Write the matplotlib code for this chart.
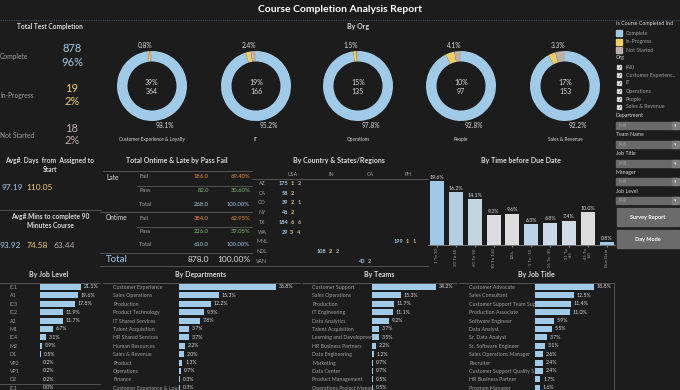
import matplotlib
matplotlib.use("Agg")
import matplotlib.pyplot as plt
from matplotlib.patches import Rectangle

plt.rcParams["font.family"] = ["Lato", "DejaVu Sans"]

# ---- data ----
status = ["Complete", "In-Progress", "Not Started"]
status_count = [878, 19, 18]
status_pct = [96, 2, 2]

avg_days = [97.19, 110.05]
avg_mins = [93.92, 74.58, 63.44]

orgs = ["Customer Experience & Loyalty", "IT", "Operations", "People", "Sales & Revenue"]
org_share = [39, 19, 15, 10, 17]
org_count = [364, 166, 135, 97, 153]
org_complete = [98.1, 95.2, 97.8, 92.8, 92.2]
org_inprog = [0.8, 2.4, 1.5, 4.1, 3.3]
org_notstarted = [1.1, 2.4, 0.7, 3.1, 4.5]

pf_groups = ["Late", "Ontime"]
pf_rows = ["Fail", "Pass", "Total"]
pf_late = [186.0, 82.0, 268.0]
pf_late_pct = [69.40, 30.60, 100.00]
pf_ontime = [384.0, 226.0, 610.0]
pf_ontime_pct = [62.95, 37.05, 100.00]
pf_total = 878.0
pf_total_pct = 100.00

countries = ["USA", "IN", "CA", "PH"]
states = ["AZ", "CA", "CO", "NY", "TX", "WA", "MNL", "NDL", "VAN"]
state_country = ["USA", "USA", "USA", "USA", "USA", "USA", "PH", "IN", "CA"]
state_complete = [175, 58, 39, 46, 184, 29, 199, 108, 40]
state_inprog = [1, 2, 2, 2, 6, 3, 1, 2, None]
state_notstarted = [2, None, 1, None, 6, 4, 1, 2, 2]

due_buckets = ["1 To 30", "30 To 60", "60 To 90", "90 To 120", "120+",
               "-1 To -15", "-16 To -30", "-31 To\n-45", "-45 To\n-60", "Due Date"]
due_pct = [19.6, 16.2, 14.1, 9.2, 9.6, 6.3, 6.8, 7.4, 10.0, 0.8]
due_colors = ["#9fc9e8", "#b3cfe2", "#c3d5e1", "#dadcdf", "#dcdcdc",
              "#bcd4ea", "#c9d9e8", "#d1dce8", "#dcdcdc", "#9fc9e8"]

job_levels = ["IC1", "A1", "IC3", "IC2", "A2", "M1", "IC4", "M2", "D1", "VP2", "VP1", "D2", "IC1"]
job_level_pct = [21.1, 19.6, 17.8, 11.9, 11.7, 6.7, 3.1, 0.9, 0.5, 0.2, 0.2, 0.2, 0.0]

departments = ["Customer Experience", "Sales Operations", "Production", "Product Technology",
               "IT Shared Services", "Talent Acquisition", "HR Shared Services", "Human Resources",
               "Sales & Revenue", "Product", "Operations", "Finance", "Customer Experience & Loya.."]
department_pct = [36.8, 15.3, 12.2, 9.5, 7.8, 3.7, 3.7, 2.2, 2.0, 1.3, 0.7, 0.3, 0.3]

teams = ["Customer Support", "Sales Operations", "Production", "IT Engineering", "Data Analytics",
         "Talent Acquisition", "Learning and Development", "HR Business Partners", "Data Engineering",
         "Marketing", "Data Center", "Product Management", "Operations Project Manag.."]
team_pct = [34.2, 15.3, 11.7, 11.1, 9.2, 3.7, 3.5, 2.2, 1.2, 0.7, 0.7, 0.5, 0.5]

job_titles = ["Customer Advocate", "Sales Consultant", "Customer Support Team Sup..",
              "Production Associate", "Software Engineer", "Data Analyst", "Sr. Data Analyst",
              "Sr. Software Engineer", "Sales Operations Manager", "Recruiter",
              "Customer Support Quality S..", "HR Business Partner", "Program Manager"]
job_title_pct = [18.8, 12.5, 11.4, 11.0, 5.9, 5.5, 3.7, 3.1, 2.6, 2.4, 2.4, 1.7, 1.6]

filters = ["Department", "Team Name", "Job Title", "Manager", "Job Level"]
org_filter = ["(All)", "Customer Experienc..", "IT", "Operations", "People", "Sales & Revenue"]

# ---- style ----
BG = "#1c1c1c"
FG = "#d9d9d9"
DIM = "#a0a0a0"
BLUE = "#a0cbe8"
YEL = "#f1ce63"
GRAY = "#bab0ac"
ORANGE = "#f28e2b"
GREEN = "#7cc36b"
LINE = "#5c5c5c"
status_colors = [BLUE, YEL, GRAY]

W, H = 680, 390
fig = plt.figure(figsize=(6.8, 3.9), dpi=100, facecolor=BG)
bg = fig.add_axes([0, 0, 1, 1])
bg.set_xlim(0, W)
bg.set_ylim(H, 0)
bg.axis("off")


def px_axes(x0, y0, x1, y1):
    return fig.add_axes([x0 / W, 1 - y1 / H, (x1 - x0) / W, (y1 - y0) / H])


def txt(x, y, s, size=4.2, color=FG, ha="left", weight="normal"):
    bg.text(x, y, s, fontsize=size, color=color, ha=ha, va="center", fontweight=weight)


def hline(y, x0, x1, color=LINE, lw=0.6):
    bg.plot([x0, x1], [y, y], color=color, lw=lw)


txt(340, 10, "Course Completion Analysis Report", 7.5, "white", "center", "bold")
bg.plot([0, W], [20, 20], color="#3d4f66", lw=0.8, ls=(0, (1, 1)))

# ---- left KPI panel ----
txt(50, 27, "Total Test Completion", 4.8, FG, "center", "bold")
for i, (name, n, p) in enumerate(zip(status, status_count, status_pct)):
    y = 56 + i * 39.5
    txt(0, y, name, 4.8, DIM)
    txt(72, y - 7, str(n), 8, status_colors[i], "center")
    txt(72, y + 6, f"{p}%", 8, status_colors[i], "center")

txt(50, 161, "Avg#. Days  from  Assigned to", 4.8, FG, "center", "bold")
txt(50, 170, "Start", 4.8, FG, "center", "bold")
x = 1
for v, c in zip(avg_days, status_colors):
    txt(x, 187, f"{v:.2f}", 6, c)
    x += 25
hline(210, 0, 101)
txt(50, 217, "Avg#.Mins to complete 90", 4.8, FG, "center", "bold")
txt(50, 226, "Minutes Course", 4.8, FG, "center", "bold")
x = 0
for v, c in zip(avg_mins, status_colors):
    txt(x, 246, f"{v:.2f}", 6, c)
    x += 27

# ---- donuts by org ----
txt(358, 27, "By Org", 5, FG, "center", "bold")
centers = [152, 256, 358, 461, 565]
R = 35
for i, cx in enumerate(centers):
    ax = px_axes(cx - 45, 41, cx + 45, 131)
    ax.pie([org_complete[i], org_inprog[i], org_notstarted[i]], colors=status_colors,
           startangle=90, counterclock=False, radius=1,
           wedgeprops=dict(width=0.3, linewidth=0))
    ax.set_xlim(-45 / R, 45 / R)
    ax.set_ylim(-45 / R, 45 / R)
    ax.text(0, 0.09, f"{org_share[i]}%", fontsize=5, color=FG, ha="center", va="center")
    ax.text(0, -0.17, str(org_count[i]), fontsize=5, color=FG, ha="center", va="center")
    ax.text(-0.2, 1.17, f"{org_inprog[i]}%", fontsize=4.8, color=FG, ha="center", va="center")
    ax.text(0.37, -1.14, f"{org_complete[i]}%", fontsize=4.8, color=FG, ha="center", va="center")
    ax.text(0, -1.54, orgs[i], fontsize=3.4, color=FG, ha="center", va="center")

# ---- pass / fail table ----
txt(177, 161, "Total Ontime & Late by Pass Fail", 5, FG, "center", "bold")
hline(171, 103, 252)
for g, (grp, vals, pcts) in enumerate(zip(pf_groups, [pf_late, pf_ontime], [pf_late_pct, pf_ontime_pct])):
    y0 = 177 + g * 41
    txt(106, y0, grp, 4.8, FG)
    for r, (row, v, p) in enumerate(zip(pf_rows, vals, pcts)):
        y = y0 + r * 13.5
        c = [ORANGE, GREEN, BLUE][r]
        txt(139, y, row, 4.2, DIM)
        txt(209, y, f"{v:.1f}", 4.2, c, "right")
        txt(250, y, f"{p:.2f}%", 4.2, c, "right")
    hline(y0 + 9, 137, 252)
    hline(y0 + 35, 100, 252)
txt(106, 259, "Total", 7, BLUE)
txt(209, 259, f"{pf_total:.1f}", 6, FG, "right")
txt(250, 259, f"{pf_total_pct:.2f}%", 6, FG, "right")
hline(266, 100, 428)

# ---- country / state table ----
txt(339, 161, "By Country & States/Regions", 5, FG, "center", "bold")
country_x = [293, 331, 370, 408]
for c, cx in zip(countries, country_x):
    txt(cx, 174, c, 3.8, DIM, "center")
hline(179, 252, 428)
for i, st in enumerate(states):
    y = 183.5 + i * 9.7
    txt(262, y, st, 3.8, DIM, "center")
    cx = country_x[countries.index(state_country[i])]
    txt(cx - 5, y, str(state_complete[i]), 4, BLUE, "right", "bold")
    xs = cx - 1
    for v, col in [(state_inprog[i], YEL), (state_notstarted[i], GRAY)]:
        if v is not None:
            txt(xs, y, str(v), 4, col, "center", "bold")
            xs += 7

# ---- time before due date ----
txt(521, 161, "By Time before Due Date", 5, FG, "center", "bold")
ax = px_axes(428, 168, 615, 245)
ax.set_facecolor("none")
bars = ax.bar(range(len(due_pct)), due_pct, width=0.74, color=due_colors)
ax.bar_label(bars, labels=[f"{v:.1f}%" for v in due_pct], fontsize=3.8, color=FG, padding=1)
ax.set_xlim(-0.48, 9.44)
ax.set_ylim(0, 19.6 * 77 / 64)
ax.set_xticks(range(len(due_buckets)), due_buckets, rotation=90, fontsize=3.2, color=DIM,
              linespacing=1.0)
ax.tick_params(axis="x", length=1.5, color="#888888", pad=1)
ax.set_yticks([])
for s in ["top", "right", "left"]:
    ax.spines[s].set_visible(False)
ax.spines["bottom"].set_color("#888888")
ax.spines["bottom"].set_linewidth(0.6)

# ---- bottom bar charts ----
ROW = 8.4


def hbar_panel(title, title_x, x_lab, x0, x1, labels, vals, px_per_pct, colors):
    txt(title_x, 274, title, 5, FG, "center", "bold")
    ax = px_axes(x0, 283, x1, 390)
    ax.set_facecolor("none")
    b = ax.barh(range(len(vals)), vals, height=0.7, color=colors)
    ax.bar_label(b, labels=[f"{v:.1f}%" for v in vals], fontsize=3.8, color=FG, padding=2)
    ax.set_xlim(0, (x1 - x0) / px_per_pct)
    ymin = -(287 - 283) / ROW
    ax.set_ylim(ymin + (390 - 283) / ROW, ymin)
    ax.set_yticks(range(len(labels)), labels, fontsize=3.8, color=DIM)
    for t in ax.get_yticklabels():
        t.set_horizontalalignment("left")
    ax.tick_params(axis="y", length=0, pad=(x0 - x_lab) * 0.72)
    ax.set_xticks([])
    for s in ax.spines.values():
        s.set_visible(False)


hbar_panel("By Job Level", 49, 10, 40, 100, job_levels, job_level_pct, 1.94,
           [BLUE] * 12 + [YEL])
hline(283, 0, 100)
hline(384, 0, 100)
hbar_panel("By Departments", 201, 113, 179, 300, departments, department_pct, 2.63, BLUE)
hline(283, 103, 300)
hbar_panel("By Teams", 379, 312, 372, 457, teams, team_pct, 1.87, BLUE)
hline(283, 302, 457)
hbar_panel("By Job Title", 536, 469, 535, 614, job_titles, job_title_pct, 3.14, BLUE)
hline(283, 459, 614)
bg.plot([614, 614], [283, 390], color=LINE, lw=0.6)

# ---- right filter panel ----
txt(616, 24, "Is Course Completed Ind", 3.8, FG)
for i, (name, c) in enumerate(zip(status, status_colors)):
    y = 33 + i * 8.5
    bg.add_patch(Rectangle((616, y - 3), 6, 6, color=c))
    txt(626, y, name, 3.8, DIM)
txt(616, 57, "Org", 3.8, FG)
for i, name in enumerate(org_filter):
    y = 67 + i * 8
    bg.add_patch(Rectangle((617, y - 2.5), 5, 5, facecolor="#e6e6e6", edgecolor="#888888", lw=0.3))
    bg.text(619.5, y, "\u2713", fontsize=3.5, color="#333333", ha="center", va="center",
            family="DejaVu Sans")
    txt(626, y, name, 3.8, DIM)
for i, name in enumerate(filters):
    y = 116 + i * 18.8
    txt(616, y, name, 3.8, FG)
    bg.add_patch(Rectangle((616, y + 6), 63, 7, color="#6a6a6a"))
    bg.add_patch(Rectangle((672, y + 6), 7, 7, color="#7e7e7e"))
    txt(619, y + 9.5, "(All)", 3.5, "#9c9c9c")
    bg.text(675.5, y + 9.5, "\u25be", fontsize=3.5, color="#dddddd", ha="center", va="center",
            family="DejaVu Sans")
for y0, label in [(208, "Survey Report"), (230, "Day Mode")]:
    bg.add_patch(Rectangle((617, y0), 62, 18, color="#6b6b6b"))
    txt(648, y0 + 9, label, 4, "white", "center", "bold")

fig.savefig("out.png", dpi=100, facecolor=BG)
